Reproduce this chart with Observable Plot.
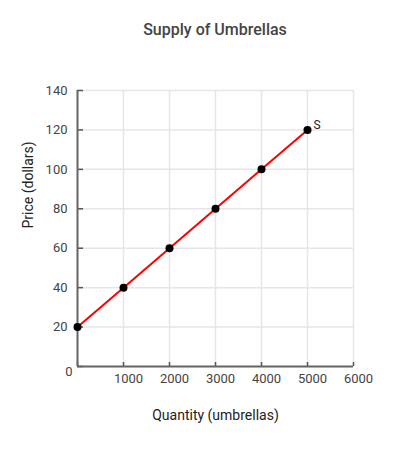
<!DOCTYPE html>
<html>
<head>
<meta charset="utf-8">
<script src="https://cdn.jsdelivr.net/npm/d3@7"></script>
<script src="https://cdn.jsdelivr.net/npm/@observablehq/plot@0.6"></script>
<style>
  body { margin: 0; background: white; font-family: Roboto, sans-serif; }
  #title { height: 50px; line-height: 60px; text-align: center; font-size: 16px; font-weight: 500; color: #444; width: 430px; }
</style>
</head>
<body>
<div id="title">Supply of Umbrellas</div>
<div id="chart"></div>
<script>
// supply schedule
const quantity = [0, 1000, 2000, 3000, 4000, 5000]
const price = [20, 40, 60, 80, 100, 120]
const xTicks = [0, 1000, 2000, 3000, 4000, 5000, 6000]
const yTicks = [0, 20, 40, 60, 80, 100, 120, 140]
const curveLabel = "S"

const data = quantity.map((q, i) => ({ q, p: price[i] }))
const last = data[data.length - 1]

// frame is 276 x 276 px; ticks point inward
let chart = Plot.plot({
    width: 413,
    height: 413,
    marginLeft: 77,
    marginRight: 60,
    marginTop: 40,
    marginBottom: 97,
    x: { domain: [0, 6000] },
    y: { domain: [0, 140] },
    marks: [
        Plot.gridX(xTicks, { stroke: "#e6e6e6", strokeOpacity: 1, strokeWidth: 1.5 }),
        Plot.gridY(yTicks, { stroke: "#e6e6e6", strokeOpacity: 1, strokeWidth: 1.5 }),
        Plot.axisX(xTicks, { tickSize: 0, tickFormat: d => d === 0 ? "" : String(d), tickPadding: 7, dx: 5, fill: "#444", fontSize: 13, label: null }),
        Plot.axisY(yTicks, { tickSize: 0, tickFormat: d => d === 0 ? "" : String(d), tickPadding: 10, fill: "#444", fontSize: 13, label: null }),
        Plot.ruleX(xTicks, { x: d => d, insetTop: 272, stroke: "#555", strokeWidth: 1.5 }),
        Plot.ruleY(yTicks, { y: d => d, insetRight: 270, stroke: "#555", strokeWidth: 1.5 }),
        Plot.text([0], { x: 0, y: 0, text: d => "0", dx: -5, dy: 5, textAnchor: "end", fill: "#444", fontSize: 13 }),
        Plot.ruleY([0], { stroke: "#666", strokeWidth: 2 }),
        Plot.ruleX([0], { stroke: "#666", strokeWidth: 2 }),
        Plot.line(data, { x: "q", y: "p", stroke: "#f00", strokeWidth: 2 }),
        Plot.dot(data, { x: "q", y: "p", r: 4, fill: "black" }),
        Plot.text([last], { x: "q", y: "p", text: d => curveLabel, dx: 6, dy: -5, textAnchor: "start", fill: "#222", fontSize: 12 }),
        Plot.text(["Price (dollars)"], { frameAnchor: "left", text: d => d, rotate: -90, dx: -49, fill: "#222", fontSize: 14 }),
        Plot.text(["Quantity (umbrellas)"], { frameAnchor: "bottom", text: d => d, dy: 53, fill: "#222", fontSize: 14 }),
    ],
    style: {
        fontFamily: "Roboto, sans-serif",
        fontSize: 13,
        overflow: "visible"
    }
})

d3.select('#chart').append(() => chart)
</script>
</body>
</html>
